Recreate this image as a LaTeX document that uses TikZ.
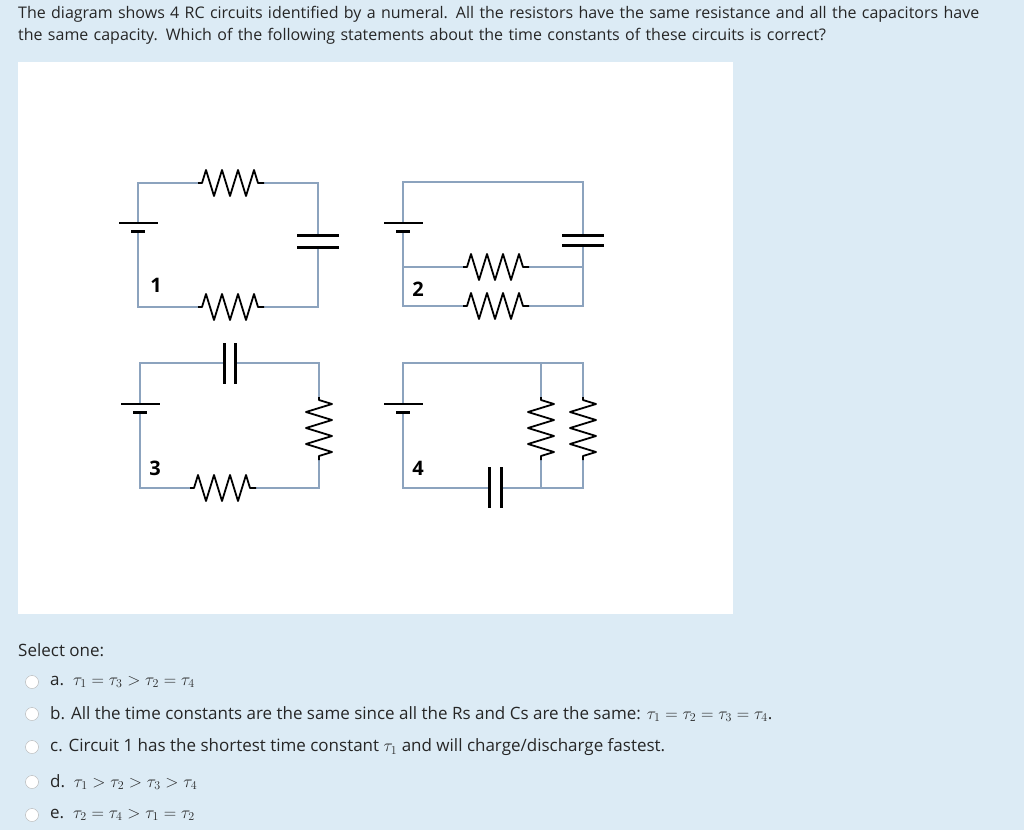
\documentclass[tikz,border=0pt]{standalone}
\usepackage{fontspec}
\setmainfont{Open Sans}
\begin{document}
\begin{tikzpicture}[x=1pt,y=-1pt,
 wire/.style={draw=wirec,line width=1.4pt},
 comp/.style={draw=black,line width=1.8pt,line join=round},
 plate/.style={draw=black,line width=3pt},
 txt/.style={anchor=west,inner sep=0,font=\fontsize{17}{19}\selectfont,text=black!85},
 radio/.style={draw=gray!60,fill=white,circle,minimum size=13pt,inner sep=0},
 lab/.style={font=\fontsize{20}{20}\selectfont\bfseries,inner sep=0}]
\definecolor{bgc}{HTML}{DCEBF5}
\definecolor{wirec}{HTML}{8CA3BE}
\fill[bgc] (0,0) rectangle (1024,830);
\useasboundingbox (0,0) rectangle (1024,830);
\fill[white] (18,62) rectangle (733,614);
\node[txt,anchor=north west,text width=985pt,align=left,font=\fontsize{16}{22}\selectfont] (q) at (18,6) {The diagram shows 4 RC circuits identified by a numeral. All the resistors have the same resistance and all the capacitors have the same capacity. Which of the following statements about the time constants of these circuits is correct?};
\newcommand{\hres}[2]{\draw[comp] (#1,#2) -- ++(4,0) -- ++(4,-13) -- ++(8,26) -- ++(8,-26) -- ++(8,26) -- ++(8,-26) -- ++(8,26) -- ++(8,-26) -- ++(4,13) -- ++(6,0);}
\newcommand{\vres}[2]{\draw[comp] (#2,#1) -- ++(0,3) -- ++(13,4) -- ++(-26,8) -- ++(26,8) -- ++(-26,8) -- ++(26,8) -- ++(-26,8) -- ++(26,8) -- ++(-13,4) -- ++(0,4);}
% Circuit 1
\draw[wire] (138,223) -- (138,183) -- (198,183);
\draw[wire] (264,183) -- (318,183) -- (318,235);
\draw[wire] (318,247) -- (318,307) -- (264,307);
\draw[wire] (198,307) -- (138,307) -- (138,231);
\hres{198}{183}
\hres{198}{307}
\draw[comp] (119,223) -- (158,223); \draw[plate] (131,231) -- (145,231);
\draw[plate] (297,235) -- (339,235) (297,247) -- (339,247);
\node[lab] (l1) at (156,285) {1};
% Circuit 2
\draw[wire] (403,223) -- (403,182) -- (583,182) -- (583,235);
\draw[wire] (583,245) -- (583,306) -- (529,306);
\draw[wire] (463,306) -- (403,306) -- (403,231);
\draw[wire] (403,267) -- (463,267) (529,267) -- (583,267);
\hres{463}{267}
\hres{463}{306}
\draw[comp] (384,223) -- (423,223); \draw[plate] (396,231) -- (410,231);
\draw[plate] (562,235) -- (604,235) (562,245) -- (604,245);
\node[lab] (l2) at (418,289) {2};
% Circuit 3
\draw[wire] (140,404) -- (140,363) -- (224,363);
\draw[wire] (234,363) -- (319,363) -- (319,397);
\draw[wire] (319,460) -- (319,488) -- (256,488);
\draw[wire] (190,488) -- (140,488) -- (140,412);
\draw[plate] (224,343) -- (224,384) (235,343) -- (235,384);
\vres{397}{319}
\hres{190}{488}
\draw[comp] (121,404) -- (160,404); \draw[plate] (133,412) -- (147,412);
\node[lab] (l3) at (155,468) {3};
% Circuit 4
\draw[wire] (403,404) -- (403,363) -- (583,363) -- (583,397);
\draw[wire] (541,363) -- (541,397);
\draw[wire] (541,460) -- (541,488) (583,460) -- (583,488) -- (501,488);
\draw[wire] (489,488) -- (403,488) -- (403,412);
\vres{397}{541}
\vres{397}{583}
\draw[plate] (489,467) -- (489,508) (501,467) -- (501,508);
\draw[comp] (384,404) -- (423,404); \draw[plate] (396,412) -- (410,412);
\node[lab] (l4) at (418,468) {4};
% Options
\node[txt] (sel) at (18,650) {Select one:};
\foreach \y/\t [count=\i] in {
 682/{a.\ \ $\tau_1=\tau_3>\tau_2=\tau_4$},
 714/{b. All the time constants are the same since all the Rs and Cs are the same: $\tau_1=\tau_2=\tau_3=\tau_4$.},
 747/{c. Circuit 1 has the shortest time constant $\tau_1$ and will charge/discharge fastest.},
 782/{d.\ \ $\tau_1>\tau_2>\tau_3>\tau_4$},
 815/{e.\ \ $\tau_2=\tau_4>\tau_1=\tau_2$}} {
 \node[radio] (r\i) at (32,\y) {};
 \node[txt] (o\i) at (50,\y) {\t};
}
\end{tikzpicture}
\end{document}
